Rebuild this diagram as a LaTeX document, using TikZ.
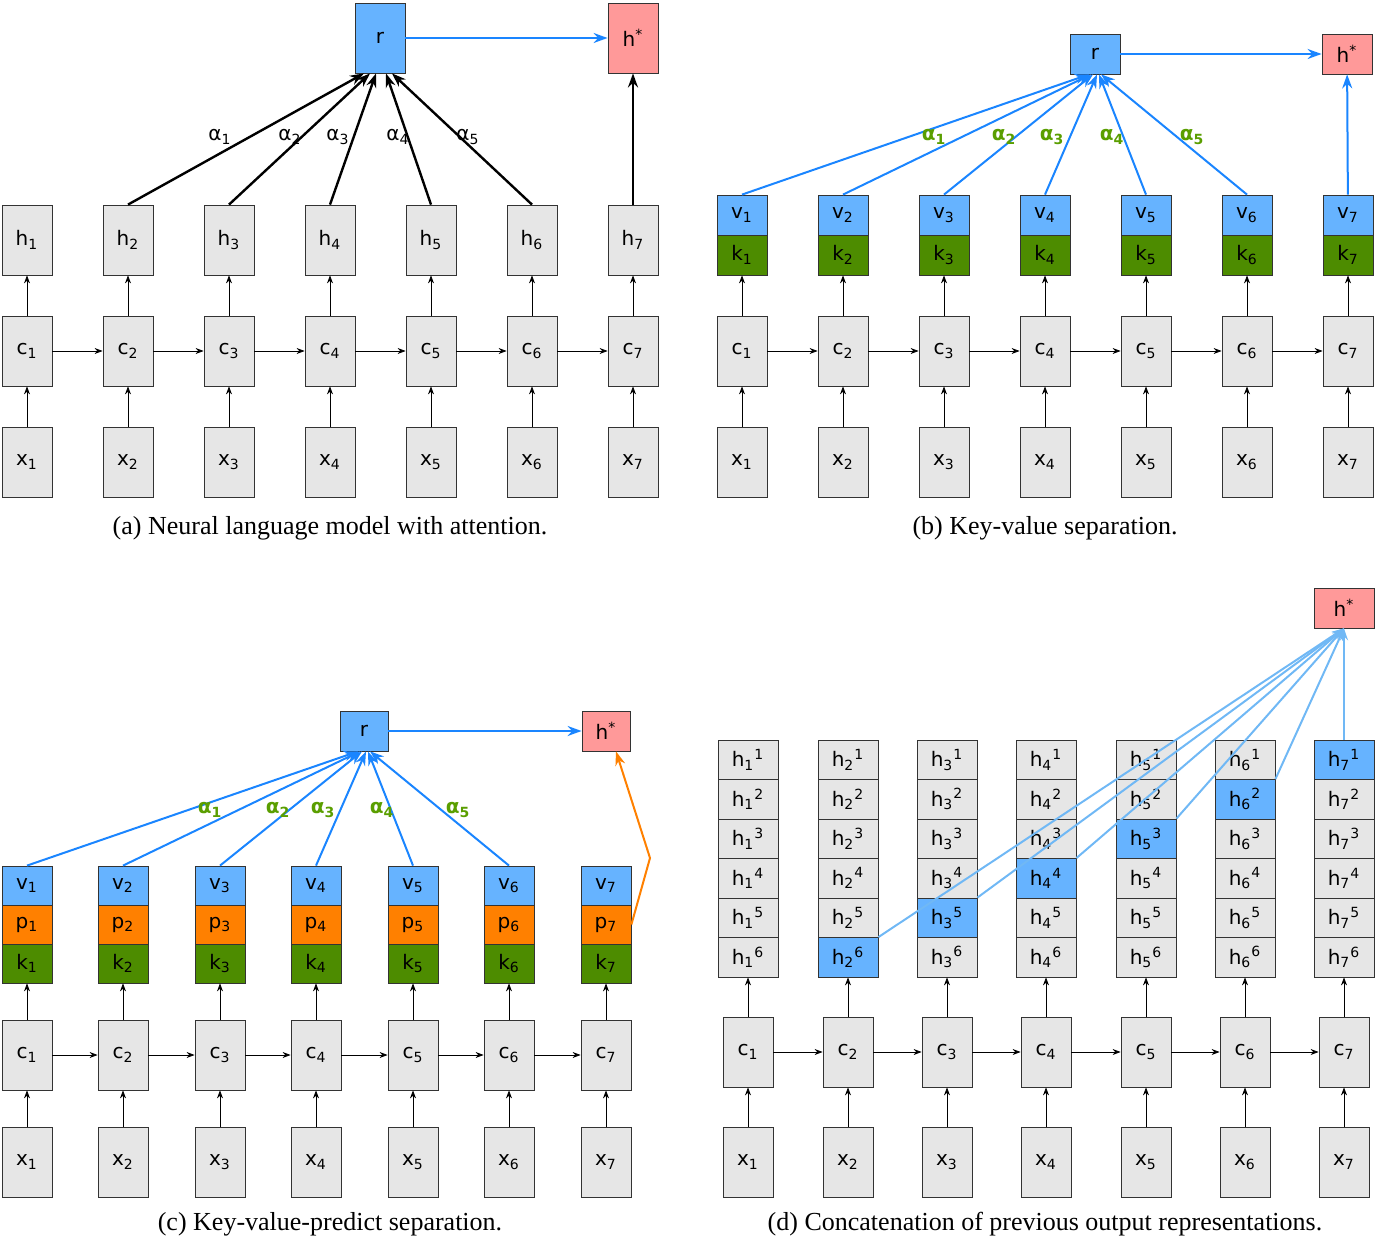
\documentclass[tikz,border=0pt]{standalone}
\usepackage{fontspec}
\setmainfont{Liberation Serif}
\newfontfamily\dvsans{DejaVu Sans}
\usetikzlibrary{arrows.meta}
\definecolor{gbox}{HTML}{E6E6E6}
\definecolor{bbox}{HTML}{66B3FF}
\definecolor{kbox}{HTML}{4D8C00}
\definecolor{obox}{HTML}{FF8000}
\definecolor{pbox}{HTML}{FF9999}
\definecolor{bline}{HTML}{1A85FF}
\definecolor{lline}{HTML}{70B8F5}
\definecolor{alab}{HTML}{5A9E00}
\begin{document}
\begin{tikzpicture}[x=0.5pt,y=-0.5pt,
 bx/.style={draw=black!80,fill=gbox,minimum width=25pt,minimum height=35pt,inner sep=0pt,font=\dvsans\fontsize{10}{10}\selectfont},
 sb/.style={bx,minimum height=20pt},
 cell/.style={bx,minimum width=30pt,minimum height=19.75pt},
 thinar/.style={-{Stealth[length=4pt,width=3pt]},black,thin},
 thickar/.style={-{Stealth[length=7pt,width=5pt]},black,line width=1.2pt},
 bluear/.style={-{Stealth[length=7pt,width=5pt]},bline,line width=1pt},
 alabel/.style={font=\dvsans\fontsize{10}{10}\selectfont},
 glabel/.style={text=alab,font=\dvsans\bfseries\fontsize{10}{10}\selectfont},
 caption/.style={font=\fontsize{13}{13}\selectfont}]
\useasboundingbox (0,0) rectangle (1376,1241);
% ---------- (a)
\foreach \i/\x in {1/27,2/128,3/229,4/330,5/431,6/532,7/633}{
 \node[bx] (ah\i) at (\x,240) {h\textsubscript{\i}};
 \node[bx] (ac\i) at (\x,351) {c\textsubscript{\i}};
 \node[bx] (ax\i) at (\x,462) {x\textsubscript{\i}};
 \draw[thinar] (ax\i) -- (ac\i); \draw[thinar] (ac\i) -- (ah\i);}
\foreach \i/\j in {1/2,2/3,3/4,4/5,5/6,6/7}{\draw[thinar] (ac\i) -- (ac\j);}
\node[bx,fill=bbox] (ar) at (380,38) {r};
\node[bx,fill=pbox] (ahs) at (633,38) {h\textsuperscript{*}};
\draw[bluear] (ar) -- (ahs);
\draw[thickar] (ah7) -- (ahs);
\foreach \i/\o in {2/-8,3/-5,4/-2,5/3,6/6}{\draw[thickar] (ah\i.north) -- ([xshift=\o pt]ar.south);}
\node[alabel] at (220,137) {α\textsubscript{1}};
\node[alabel] at (290,137) {α\textsubscript{2}};
\node[alabel] at (338,137) {α\textsubscript{3}};
\node[alabel] at (398,137) {α\textsubscript{4}};
\node[alabel] at (468,137) {α\textsubscript{5}};
\node[caption] (capa) at (330,528) {(a) Neural language model with attention.};
% ---------- (b)
\foreach \i/\x in {1/742,2/843,3/944,4/1045,5/1146,6/1247,7/1348}{
 \node[sb,fill=bbox] (bv\i) at (\x,215) {v\textsubscript{\i}};
 \node[sb,fill=kbox] (bk\i) at (\x,255) {k\textsubscript{\i}};
 \node[bx] (bc\i) at (\x,351) {c\textsubscript{\i}};
 \node[bx] (bx\i) at (\x,462) {x\textsubscript{\i}};
 \draw[thinar] (bx\i) -- (bc\i); \draw[thinar] (bc\i) -- (bk\i);}
\foreach \i/\j in {1/2,2/3,3/4,4/5,5/6,6/7}{\draw[thinar] (bc\i) -- (bc\j);}
\node[sb,fill=bbox] (br) at (1095,54) {r};
\node[sb,fill=pbox] (bhs) at (1347,54) {h\textsuperscript{*}};
\draw[bluear] (br) -- (bhs);
\draw[bluear] (bv7) -- (bhs);
\foreach \i/\o in {1/-3,2/-2,3/-1,4/1,5/2,6/3}{\draw[bluear] (bv\i.north) -- ([xshift=\o pt]br.south);}
\node[glabel] at (934,137) {α\textsubscript{1}};
\node[glabel] at (1004,137) {α\textsubscript{2}};
\node[glabel] at (1052,137) {α\textsubscript{3}};
\node[glabel] at (1112,137) {α\textsubscript{4}};
\node[glabel] at (1192,137) {α\textsubscript{5}};
\node[caption] (capb) at (1045,528) {(b) Key-value separation.};
% ---------- (c)
\foreach \i/\x in {1/27,2/123,3/220,4/316,5/413,6/509,7/606}{
 \node[sb,fill=bbox,minimum height=19.5pt] (cv\i) at (\x,885.5) {v\textsubscript{\i}};
 \node[sb,fill=obox,minimum height=19.5pt] (cp\i) at (\x,924.5) {p\textsubscript{\i}};
 \node[sb,fill=kbox,minimum height=19.5pt] (ck\i) at (\x,963.5) {k\textsubscript{\i}};
 \node[bx] (cc\i) at (\x,1055) {c\textsubscript{\i}};
 \node[bx] (cx\i) at (\x,1162) {x\textsubscript{\i}};
 \draw[thinar] (cx\i) -- (cc\i); \draw[thinar] (cc\i) -- (ck\i);}
\foreach \i/\j in {1/2,2/3,3/4,4/5,5/6,6/7}{\draw[thinar] (cc\i) -- (cc\j);}
\node[sb,fill=bbox,minimum width=24pt] (cr) at (364,731) {r};
\node[sb,fill=pbox,minimum width=24pt] (chs) at (606,731) {h\textsuperscript{*}};
\draw[bluear] (cr) -- (chs);
\coordinate (cbend) at (650,858);
\draw[-{Stealth[length=7pt,width=5pt]},obox,line width=1pt] (cp7.east) -- (cbend) -- ([xshift=5pt]chs.south);
\foreach \i/\o in {1/-3,2/-2,3/-1,4/1,5/2,6/3}{\draw[bluear] (cv\i.north) -- ([xshift=\o pt]cr.south);}
\node[glabel] at (210,810) {α\textsubscript{1}};
\node[glabel] at (278,810) {α\textsubscript{2}};
\node[glabel] at (323,810) {α\textsubscript{3}};
\node[glabel] at (382,810) {α\textsubscript{4}};
\node[glabel] at (458,810) {α\textsubscript{5}};
\node[caption] (capc) at (330,1224) {(c) Key-value-predict separation.};
% ---------- (d)
\node[sb,fill=pbox,minimum width=30pt] (dhs) at (1344,608) {h\textsuperscript{*}};
\foreach \i/\x in {1/748,2/848,3/947,4/1046,5/1146,6/1245,7/1344}{
 \foreach \r in {1,...,6}{
  \pgfmathsetmacro\yy{740+39.5*(\r-0.5)}
  \node[cell] (d\i\r) at (\x,\yy) {h\textsubscript{\i}\textsuperscript{\r}};}
 \node[bx] (dc\i) at (\x,1052) {c\textsubscript{\i}};
 \node[bx] (dx\i) at (\x,1162) {x\textsubscript{\i}};
 \draw[thinar] (dx\i) -- (dc\i); \draw[thinar] (dc\i) -- (d\i6);}
\foreach \i/\j in {1/2,2/3,3/4,4/5,5/6,6/7}{\draw[thinar] (dc\i) -- (dc\j);}
\foreach \i/\r in {2/6,3/5,4/4,5/3,6/2,7/1}{
 \node[cell,fill=bbox] at (d\i\r) {h\textsubscript{\i}\textsuperscript{\r}};}
\foreach \i/\r in {2/6,3/5,4/4,5/3,6/2}{\draw[-{Stealth[length=6pt,width=4pt]},lline,line width=1pt] (d\i\r.north east) -- (dhs.south);}
\draw[-{Stealth[length=6pt,width=4pt]},lline,line width=1pt] (d71) -- (dhs);
\node[caption] (capd) at (1045,1224) {(d) Concatenation of previous output representations.};
\end{tikzpicture}
\end{document}
